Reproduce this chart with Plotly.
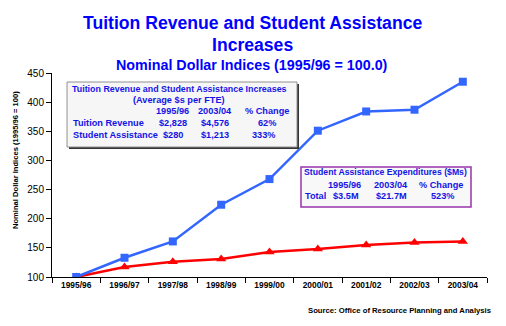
import plotly.graph_objects as go

years = ["1995/96", "1996/97", "1997/98", "1998/99", "1999/00",
         "2000/01", "2001/02", "2002/03", "2003/04"]
tuition_index = [100, 133, 161, 224, 268, 351, 384, 387, 435]
assistance_index = [100, 117, 126, 131, 143, 148, 155, 159, 161]
y_ticks = [100, 150, 200, 250, 300, 350, 400, 450]

box1_title = ["Tuition Revenue and Student Assistance Increases", "(Average $s per FTE)"]
box1_header = ["1995/96", "2003/04", "% Change"]
box1_rows = ["Tuition Revenue", "Student Assistance"]
box1_c1 = ["$2,828", "$280"]
box1_c2 = ["$4,576", "$1,213"]
box1_c3 = ["62%", "333%"]

box2_title = "Student Assistance Expenditures ($Ms)"
box2_header = ["1995/96", "2003/04", "% Change"]
box2_row = ["Total", "$3.5M", "$21.7M", "523%"]

W, H = 506, 326
L, R, T, B = 52, 19, 73, 49
PW, PH = W - L - R, H - T - B

def px(x):
    return (x - L) / PW

def py(y):
    return (H - B - y) / PH

BLUE_LINE = "#3366FF"
RED = "#FF0000"
TXT = "#1414E6"
FONT = "Liberation Sans, Arial, sans-serif"

fig = go.Figure()
fig.add_trace(go.Scatter(x=years, y=assistance_index, mode="lines+markers",
                         line=dict(color=RED, width=2.5),
                         marker=dict(symbol="triangle-up", size=9, color=RED),
                         showlegend=False))
fig.add_trace(go.Scatter(x=years, y=tuition_index, mode="lines+markers",
                         line=dict(color=BLUE_LINE, width=2.5),
                         marker=dict(symbol="square", size=8, color=BLUE_LINE),
                         showlegend=False))

shapes = []
# box 1 shadow + box
shapes.append(dict(type="rect", xref="paper", yref="paper",
                   x0=px(69), x1=px(299), y0=py(149), y1=py(84),
                   line=dict(width=0), fillcolor="#333333", layer="above"))
shapes.append(dict(type="rect", xref="paper", yref="paper",
                   x0=px(67), x1=px(297), y0=py(147), y1=py(82),
                   line=dict(width=1, color="#909090"), fillcolor="#F6F6F6", layer="above"))
# box 2
shapes.append(dict(type="rect", xref="paper", yref="paper",
                   x0=px(301), x1=px(471), y0=py(207), y1=py(167),
                   line=dict(width=1.5, color="#9933AA"), fillcolor="#F8F8F8", layer="above"))

ann = []
def t(x, y, s, size=9.2, xa="center", color=TXT, bold=True):
    ann.append(dict(x=px(x), y=py(y), xref="paper", yref="paper", text=("<b>%s</b>" % s) if bold else s,
                    showarrow=False, xanchor=xa, yanchor="middle",
                    font=dict(family=FONT, size=size, color=color)))

# titles
t(252, 23, "Tuition Revenue and Student Assistance", size=17.6, color="#0000FF")
t(252, 45, "Increases", size=17.6, color="#0000FF")
t(252, 65.5, "Nominal Dollar Indices (1995/96 = 100.0)", size=14.3, color="#0000FF")

# box 1 text
t(179, 89, box1_title[0], size=8.9)
t(179, 100, box1_title[1])
for cx, h in zip([172.5, 215, 267], box1_header):
    t(cx, 111, h)
for i, yy in enumerate([122.5, 135]):
    t(71, yy, box1_rows[i], xa="left")
    t(173, yy, box1_c1[i])
    t(215, yy, box1_c2[i])
    t(278, yy, box1_c3[i], xa="right")

# box 2 text
t(385, 172, box2_title, size=8.7)
for cx, h in zip([344, 390.5, 441], box2_header):
    t(cx, 184.5, h)
t(303, 195.5, box2_row[0], xa="left")
for cx, s in zip([346, 391, 442.5], box2_row[1:]):
    t(cx, 195.5, s)

# source
t(493, 310.5, "Source: Office of Resource Planning and Analysis", size=7.7, xa="right", color="#000000")

# y-axis title
ann.append(dict(x=px(15), y=py(160), xref="paper", yref="paper",
                text="<b>Nominal Dollar Indices (1995/96 = 100)</b>", textangle=-90,
                showarrow=False, xanchor="center", yanchor="middle",
                font=dict(family=FONT, size=7.6, color="#000000")))

fig.update_layout(
    width=W, height=H,
    margin=dict(l=L, r=R, t=T, b=B, pad=0),
    paper_bgcolor="white", plot_bgcolor="white",
    shapes=shapes, annotations=ann,
    xaxis=dict(type="category", range=[-0.5, 8.5], tickson="boundaries",
               showline=True, linecolor="#000000", linewidth=1,
               ticks="outside", ticklen=5, tickcolor="#000000",
               showgrid=False, zeroline=False,
               tickfont=dict(family=FONT, size=8.4, color="#000000"),
               tickvals=years, ticktext=["<b>%s</b>" % y for y in years]),
    yaxis=dict(range=[100, 450], tickvals=y_ticks,
               showline=True, linecolor="#000000", linewidth=1,
               ticks="outside", ticklen=5, tickcolor="#000000",
               showgrid=False, zeroline=False,
               tickfont=dict(family=FONT, size=10, color="#000000")),
)

fig.write_html("out.html")
